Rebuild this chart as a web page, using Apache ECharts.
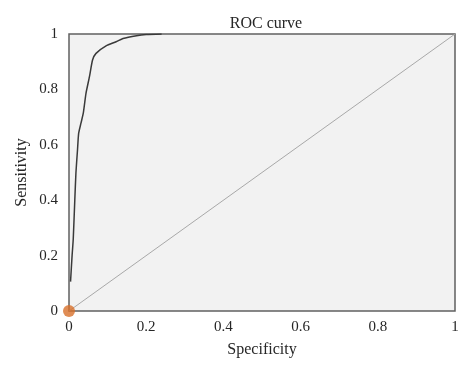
<!DOCTYPE html>
<html>
<head>
<meta charset="utf-8">
<script src="https://cdn.jsdelivr.net/npm/echarts@6/dist/echarts.min.js"></script>
<style>html,body{margin:0;padding:0;background:#fff;}#c{width:474px;height:375px;}</style>
</head>
<body>
<div id="c"></div>
<script>
var title = "ROC curve";
var xName = "Specificity";
var yName = "Sensitivity";
var rocX = [0.004, 0.008, 0.011, 0.015, 0.018, 0.022, 0.025, 0.031, 0.037, 0.044, 0.053, 0.061, 0.070, 0.096, 0.122, 0.140, 0.175, 0.200, 0.240];
var rocY = [0.106, 0.200, 0.260, 0.400, 0.500, 0.581, 0.641, 0.678, 0.714, 0.786, 0.846, 0.906, 0.930, 0.957, 0.972, 0.984, 0.994, 0.998, 1.000];
var diagX = [0, 1];
var diagY = [0, 1];
var pointX = [0];
var pointY = [0];

var font = "'Liberation Serif', 'DejaVu Serif', serif";
function pairs(xs, ys){ return xs.map(function(v,i){ return [v, ys[i]]; }); }

var chart = echarts.init(document.getElementById('c'));
chart.setOption({
  animation: false,
  backgroundColor: '#ffffff',
  title: {
    text: title, left: 261, top: 11, textAlign: 'center',
    textStyle: {fontFamily: font, fontSize: 16, fontWeight: 'normal', color: '#262626'}
  },
  grid: {
    left: 69, right: 19, top: 34, bottom: 64,
    show: true, backgroundColor: '#f2f2f2', borderColor: '#606060', borderWidth: 1.5
  },
  xAxis: {
    type: 'value', min: 0, max: 1, interval: 0.2,
    name: xName, nameLocation: 'middle', nameGap: 31, nameMoveOverlap: false,
    nameTextStyle: {fontFamily: font, fontSize: 16, color: '#262626'},
    axisLine: {show: false}, axisTick: {show: false}, splitLine: {show: false},
    axisLabel: {fontFamily: font, fontSize: 15, color: '#262626', margin: 9,
      formatter: function(v){ return String(+v.toFixed(1)); }}
  },
  yAxis: {
    type: 'value', min: 0, max: 1, interval: 0.2,
    name: yName, nameLocation: 'middle', nameGap: 39, nameRotate: 90, nameMoveOverlap: false,
    nameTextStyle: {fontFamily: font, fontSize: 16, color: '#262626'},
    axisLine: {show: false}, axisTick: {show: false}, splitLine: {show: false},
    axisLabel: {fontFamily: font, fontSize: 15, color: '#262626', margin: 11,
      formatter: function(v){ return String(+v.toFixed(1)); }}
  },
  series: [
    {type: 'line', data: pairs(diagX, diagY), showSymbol: false, symbol: 'none',
     lineStyle: {color: '#a8a8a8', width: 1}, z: 2},
    {type: 'line', data: pairs(rocX, rocY), showSymbol: false, symbol: 'none', smooth: 0.2,
     lineStyle: {color: '#3a3a3a', width: 1.5}, z: 3},
    {type: 'scatter', data: pairs(pointX, pointY), symbolSize: 12,
     itemStyle: {color: '#d8702a'}, z: 5, clip: false}
  ]
});
</script>
</body>
</html>
